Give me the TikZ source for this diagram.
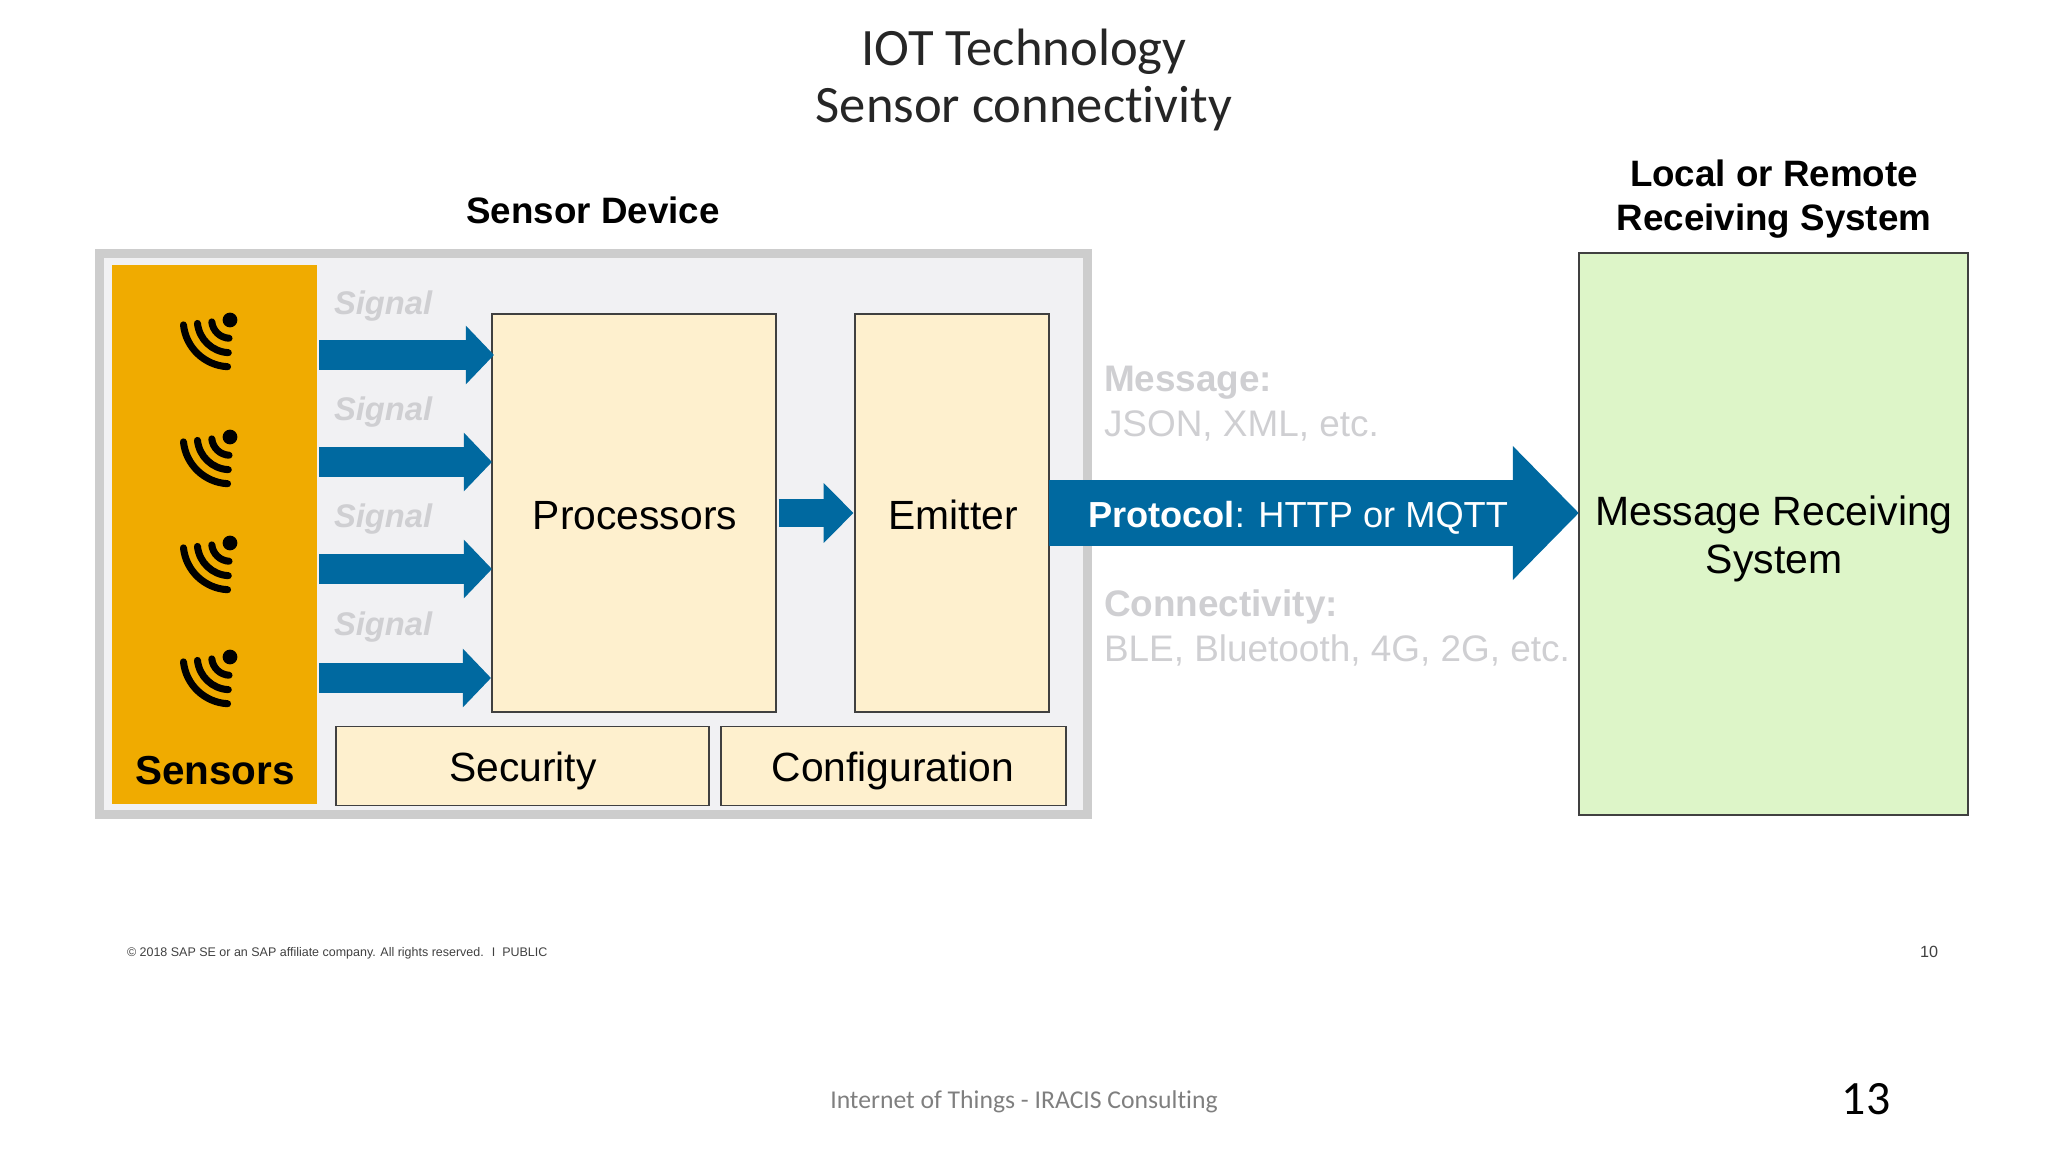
\documentclass[tikz,border=0pt]{standalone}
\usepackage{fontspec}
\setmainfont{Liberation Sans}
\newfontfamily\slidefont[Ligatures=NoCommon]{Carlito}
\usetikzlibrary{arrows.meta}
\definecolor{sapblue}{HTML}{0069A0}
\definecolor{sensorfill}{HTML}{F0AB00}
\definecolor{boxfill}{HTML}{FEF0CE}
\definecolor{recvfill}{HTML}{DDF5C8}
\definecolor{framefill}{HTML}{F1F1F3}
\definecolor{frameline}{HTML}{CDCDCD}
\definecolor{hinttext}{HTML}{CFCFD2}
\definecolor{foottext}{HTML}{7F7F7F}
\tikzset{
    x=0.01cm,y=0.01cm,
    flat/.style={inner sep=0pt,outer sep=0pt},
    box/.style={flat,draw=black!75,line width=0.4pt,fill=boxfill,align=center},
    boxtext/.style={flat,align=center,font=\fontsize{11.6}{13.7}\selectfont},
    sigarrow/.style={draw=sapblue,line width=8.25pt,-{Triangle[length=8pt,width=16.2pt,sep=0pt]},sapblue},
    hint/.style={flat,anchor=west,text=hinttext,font=\fontsize{10.5}{12}\selectfont},
    hintbold/.style={hint,font=\fontsize{10.5}{12}\selectfont\bfseries},
    signal/.style={flat,anchor=west,text=hinttext,font=\fontsize{9.3}{11}\selectfont\bfseries\itshape},
    heading/.style={flat,align=center,font=\fontsize{10.45}{12.5}\selectfont\bfseries},
    waves/.pic={
        \fill (0,0) circle[radius=2.1pt];
        \draw[line width=2pt,line cap=round]
            (186:13.3pt) arc[start angle=186,end angle=267,radius=13.3pt]
            (186:9.3pt) arc[start angle=186,end angle=267,radius=9.3pt]
            (186:5.2pt) arc[start angle=186,end angle=267,radius=5.2pt];
    }
}
\begin{document}
\begin{tikzpicture}
    \useasboundingbox (0,0) rectangle (2048,-1152);
    % slide title
    \node[flat,align=center,text=black!85,font=\slidefont\fontsize{14.95}{16.4}\selectfont] (title) at (1024,-80) {IOT Technology\\Sensor connectivity};
    % device frame
    \node[flat,draw=frameline,line width=2.56pt,fill=framefill,minimum width=9.88cm,minimum height=5.61cm] (device) at (593.5,-534) {};
    \node[heading] (devicehead) at (593,-210) {Sensor Device};
    \node[heading] (recvhead) at (1774,-199) {Local or Remote\\Receiving System};
    % sensors column
    \node[flat,fill=sensorfill,minimum width=2.05cm,minimum height=5.39cm] (sensors) at (214.5,-534.5) {};
    \node[flat,font=\fontsize{11.5}{13}\selectfont\bfseries] (sensorlabel) at (215,-771) {Sensors};
    % boxes
    \node[box,minimum width=2.84cm,minimum height=3.98cm] (proc) at (634,-513) {};
    \node[boxtext] (proclabel) at (635,-516) {Processors};
    \node[box,minimum width=1.94cm,minimum height=3.98cm] (emit) at (952,-513) {};
    \node[boxtext] (emitlabel) at (953,-515) {Emitter};
    \node[box,minimum width=3.73cm,minimum height=0.79cm] (sec) at (522.5,-766) {};
    \node[boxtext] (seclabel) at (523,-771) {Security};
    \node[box,minimum width=3.45cm,minimum height=0.79cm] (conf) at (893.5,-766) {};
    \node[boxtext] (conflabel) at (893,-771) {Configuration};
    \node[flat,draw=black!75,line width=0.4pt,fill=recvfill,minimum width=3.89cm,minimum height=5.62cm] (recv) at (1773.5,-534) {};
    \node[flat,align=center,font=\fontsize{11.65}{13.7}\selectfont] (recvlabel) at (1774,-539) {Message Receiving\\System};
    % signals
    \foreach \i/\ya/\yb/\yc/\xt in {1/320/306/355/494,2/437/412/462/492,3/543/519/569/492,4/657/627/678/491}{
        \pic at (230,-\ya) {waves};
        \node[signal] (signal\i) at (334,-\yb) {Signal};
        \coordinate (from\i) at (319,-\yc);
        \coordinate (to\i) at (\xt,-\yc);
        \draw[sigarrow] (from\i) -- (to\i);
    }
    \draw[sigarrow,line width=8pt,-{Triangle[length=8.5pt,width=16.5pt]},shorten <=0.7pt,shorten >=0.4pt] (proc.east) -- (emit.west);
    \draw[sigarrow,line width=18.6pt,-{Triangle[length=18.8pt,width=37pt]}] (emit.east) -- (recv.west |- emit.east);
    \node[flat,text=white,font=\fontsize{10.3}{12}\selectfont] (proto) at (1298,-518) {\textbf{Protocol}: HTTP or MQTT};
    % side notes
    \node[hintbold] (msghead) at (1104,-383) {Message:};
    \node[hint] (msgtext) at (1104,-426) {JSON, XML, etc.};
    \node[hintbold] (connhead) at (1104,-607) {Connectivity:};
    \node[hint] (conntext) at (1104,-650) {BLE, Bluetooth, 4G, 2G, etc.};
    % footers
    \node[flat,anchor=west,text=black!75,font=\fontsize{3.55}{4.5}\selectfont] (legal) at (127,-953) {© 2018 SAP SE or an SAP affiliate company. All rights reserved. \ I \ PUBLIC};
    \node[flat,text=black!75,font=\fontsize{4.6}{5}\selectfont] (innerpage) at (1929,-952) {10};
    \node[flat,text=foottext,font=\slidefont\fontsize{7.3}{8}\selectfont] (footer) at (1024,-1102) {Internet of Things - IRACIS Consulting};
    \node[flat,font=\slidefont\fontsize{13.6}{14}\selectfont] (pagenum) at (1866,-1099) {13};
\end{tikzpicture}
\end{document}
